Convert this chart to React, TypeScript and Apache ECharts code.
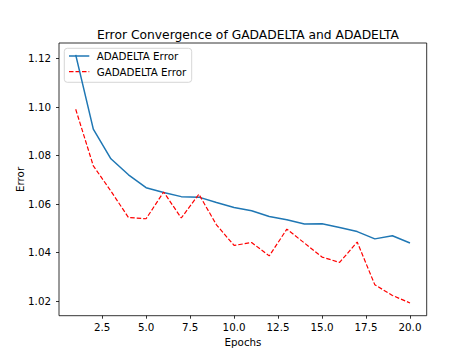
import React, { useEffect, useRef } from "react";
import * as echarts from "echarts";

const epochs = [1, 2, 3, 4, 5, 6, 7, 8, 9, 10, 11, 12, 13, 14, 15, 16, 17, 18, 19, 20];
const adadeltaError = [1.1214, 1.0908, 1.0786, 1.072, 1.0667, 1.0647, 1.063, 1.0628, 1.0606, 1.0585, 1.0572, 1.0548, 1.0535, 1.0517, 1.0518, 1.0503, 1.0486, 1.0456, 1.0469, 1.0439];
const gadadeltaError = [1.099, 1.0757, 1.0653, 1.0544, 1.0539, 1.0649, 1.0542, 1.064, 1.0514, 1.0429, 1.0441, 1.0386, 1.0496, 1.0439, 1.0381, 1.0359, 1.0443, 1.0267, 1.0223, 1.0192];
const xTicks = [2.5, 5, 7.5, 10, 12.5, 15, 17.5, 20];
const yTicks = [1.02, 1.04, 1.06, 1.08, 1.1, 1.12];
const seriesNames = ["ADADELTA Error", "GADADELTA Error"];

const FONT = "DejaVu Sans";
const BLUE = "#1f77b4";
const RED = "#ff0000";
const DASH = [4.5, 2];

export default function App() {
  const ref = useRef<HTMLDivElement>(null);
  useEffect(() => {
    if (!ref.current) return;
    const chart = echarts.init(ref.current, undefined, { renderer: "svg" });
    chart.setOption({
      animation: false,
      backgroundColor: "#ffffff",
      title: {
        text: "Error Convergence of GADADELTA and ADADELTA",
        left: 243,
        textAlign: "center",
        top: 24,
        textStyle: { fontFamily: FONT, fontSize: 12.3, fontWeight: "normal", color: "#000" },
      },
      grid: {
        left: 59,
        right: 47.3,
        top: 43,
        bottom: 39.3,
        show: true,
        borderColor: "#000",
        borderWidth: 0.8,
        backgroundColor: "transparent",
      },
      xAxis: {
        type: "value",
        min: 0.05,
        max: 20.95,
        axisLine: { show: false },
        splitLine: { show: false },
        axisTick: { show: true, length: 3, lineStyle: { color: "#000", width: 0.8 }, customValues: xTicks },
        axisLabel: {
          customValues: xTicks,
          margin: 6,
          fontFamily: FONT,
          fontSize: 10.3,
          color: "#000",
          formatter: (v: number) => v.toFixed(1),
        },
      },
      yAxis: {
        type: "value",
        min: 1.01395,
        max: 1.1263,
        axisLine: { show: false },
        splitLine: { show: false },
        axisTick: { show: true, length: 3, lineStyle: { color: "#000", width: 0.8 }, customValues: yTicks },
        axisLabel: {
          customValues: yTicks,
          margin: 8,
          fontFamily: FONT,
          fontSize: 10.3,
          color: "#000",
          formatter: (v: number) => v.toFixed(2),
        },
      },
      graphic: [
        {
          type: "text",
          x: 20,
          y: 179.4,
          rotation: Math.PI / 2,
          style: { text: "Error", fontFamily: FONT, fontSize: 10.3, fill: "#000", align: "center", verticalAlign: "middle" },
        },
        {
          type: "text",
          x: 243,
          y: 341.7,
          style: { text: "Epochs", fontFamily: FONT, fontSize: 10.3, fill: "#000", align: "center", verticalAlign: "middle" },
        },
        {
          type: "group",
          z: 100,
          children: [
            {
              type: "rect",
              shape: { x: 64.3, y: 48.3, width: 127.4, height: 34, r: 3 },
              style: { fill: "rgba(255,255,255,0.8)", stroke: "#cccccc", lineWidth: 0.8 },
            },
            {
              type: "line",
              shape: { x1: 69, y1: 56, x2: 89.3, y2: 56 },
              style: { stroke: BLUE, lineWidth: 1.5 },
            },
            {
              type: "line",
              shape: { x1: 69, y1: 71.7, x2: 89.3, y2: 71.7 },
              style: { stroke: RED, lineWidth: 1.2, lineDash: DASH },
            },
            {
              type: "text",
              x: 96.7,
              y: 56,
              style: { text: seriesNames[0], fontFamily: FONT, fontSize: 10.3, fill: "#000", align: "left", verticalAlign: "middle" },
            },
            {
              type: "text",
              x: 96.7,
              y: 71.7,
              style: { text: seriesNames[1], fontFamily: FONT, fontSize: 10.3, fill: "#000", align: "left", verticalAlign: "middle" },
            },
          ],
        },
      ],
      series: [
        {
          name: seriesNames[0],
          type: "line",
          symbol: "none",
          data: epochs.map((e, i) => [e, adadeltaError[i]]),
          lineStyle: { color: BLUE, width: 1.5 },
          itemStyle: { color: BLUE },
          z: 2,
        },
        {
          name: seriesNames[1],
          type: "line",
          symbol: "none",
          data: epochs.map((e, i) => [e, gadadeltaError[i]]),
          lineStyle: { color: RED, width: 1.2, type: DASH },
          itemStyle: { color: RED },
          z: 2,
        },
      ],
    });
    return () => chart.dispose();
  }, []);
  return <div ref={ref} style={{ width: 474, height: 355, position: "absolute", left: 0, top: 0 }} />;
}
